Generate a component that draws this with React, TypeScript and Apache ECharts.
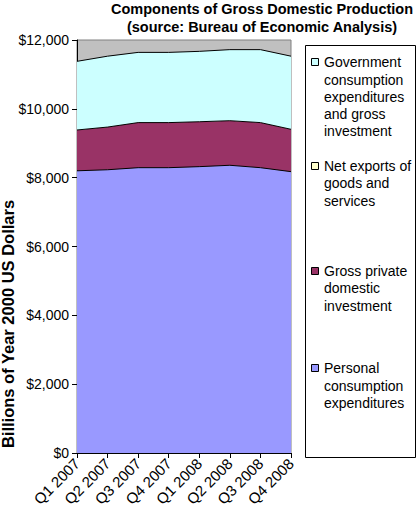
import React, { useEffect, useRef } from "react";
import * as echarts from "echarts";

const categories = ["Q1 2007", "Q2 2007", "Q3 2007", "Q4 2007", "Q1 2008", "Q2 2008", "Q3 2008", "Q4 2008"];
const personal = [8200, 8230, 8290, 8290, 8320, 8360, 8290, 8175];
const grossPrivate = [1835, 1860, 1870, 1840, 1805, 1715, 1710, 1620];
const netExports = [-650, -620, -560, -530, -500, -420, -400, -390];
const government = [1995, 2060, 2040, 2040, 2045, 2065, 2120, 2125];
const yTicks = [0, 2000, 4000, 6000, 8000, 10000, 12000];

const seriesNames = [
  "Personal consumption expenditures",
  "Gross private domestic investment",
  "Net exports of goods and services",
  "Government consumption expenditures and gross investment",
];
const colors = ["#9999FF", "#993366", "#FFFFCC", "#CCFFFF"];
// Excel hides the top edge of the investment band under the negative net-exports band
const edgeVisible = [true, false, true, true];

const legendItems = [
  { lines: ["Government", "consumption", "expenditures", "and gross", "investment"], color: "#CCFFFF", y: 62.3 },
  { lines: ["Net exports of", "goods and", "services"], color: "#FFFFCC", y: 166 },
  { lines: ["Gross private", "domestic", "investment"], color: "#993366", y: 271 },
  { lines: ["Personal", "consumption", "expenditures"], color: "#9999FF", y: 368.3 },
];

const FONT = 'Arial, "Liberation Sans", sans-serif';

function fmt(v: number): string {
  const s = String(Math.round(v));
  return "$" + s.replace(/\B(?=(\d{3})+(?!\d))/g, ",");
}

export default function App() {
  const ref = useRef<HTMLDivElement>(null);
  useEffect(() => {
    if (!ref.current) return;
    const chart = echarts.init(ref.current, undefined, { renderer: "svg" });
    const data = [personal, grossPrivate, netExports, government];
    const LH = 17.3;
    const graphics: any[] = [
      {
        type: "text",
        x: 262,
        y: 0,
        style: {
          text: "Components of Gross Domestic Production\n(source: Bureau of Economic Analysis)",
          textAlign: "center",
          textVerticalAlign: "top",
          font: `bold 14.5px ${FONT}`,
          lineHeight: 18,
          fill: "#000",
        },
      },
      {
        type: "text",
        x: 8,
        y: 324,
        rotation: Math.PI / 2,
        style: {
          text: "Billions of Year 2000 US Dollars",
          textAlign: "center",
          textVerticalAlign: "middle",
          font: `bold 16.5px ${FONT}`,
          fill: "#000",
        },
      },
      {
        type: "rect",
        shape: { x: 305.5, y: 45.5, width: 110, height: 412 },
        style: { fill: "#fff", stroke: "#000", lineWidth: 1 },
      },
    ];
    legendItems.forEach((it) => {
      graphics.push({
        type: "rect",
        shape: { x: 311.5, y: Math.round(it.y - 4) + 0.5, width: 7, height: 7 },
        style: { fill: it.color, stroke: "#000", lineWidth: 1 },
      });
      graphics.push({
        type: "text",
        x: 324,
        y: it.y - LH / 2,
        style: {
          text: it.lines.join("\n"),
          textAlign: "left",
          textVerticalAlign: "top",
          font: `14px ${FONT}`,
          lineHeight: LH,
          fill: "#000",
        },
      });
    });

    chart.setOption({
      animation: false,
      backgroundColor: "#fff",
      grid: {
        left: 77,
        right: 129,
        top: 40,
        bottom: 66,
        show: true,
        backgroundColor: "#C0C0C0",
        borderColor: "#808080",
        borderWidth: 1,
      },
      xAxis: {
        type: "category",
        data: categories,
        boundaryGap: false,
        axisLine: { lineStyle: { color: "#000", width: 1 } },
        axisTick: { show: true, length: 5, lineStyle: { color: "#000" } },
        axisLabel: { rotate: 45, color: "#000", fontSize: 15, fontFamily: FONT, margin: 8 },
        splitLine: { show: false },
      },
      yAxis: {
        type: "value",
        min: yTicks[0],
        max: yTicks[yTicks.length - 1],
        interval: yTicks[1] - yTicks[0],
        axisLine: { show: true, lineStyle: { color: "#000", width: 1 } },
        axisTick: { show: true, length: 5, lineStyle: { color: "#000" } },
        axisLabel: { color: "#000", fontSize: 14, fontFamily: FONT, margin: 8, formatter: (v: number) => fmt(v) },
        splitLine: { show: false },
      },
      series: data.map((d, i) => ({
        name: seriesNames[i],
        type: "line",
        stack: "gdp",
        stackStrategy: "all",
        data: d,
        showSymbol: false,
        symbol: "none",
        lineStyle: { color: "#000", width: 1, opacity: edgeVisible[i] ? 1 : 0 },
        areaStyle: { color: colors[i], opacity: 1 },
        itemStyle: { color: colors[i] },
      })),
      graphic: graphics,
    });
    return () => chart.dispose();
  }, []);
  return <div ref={ref} style={{ position: "fixed", left: 0, top: 0, width: 420, height: 519 }} />;
}
